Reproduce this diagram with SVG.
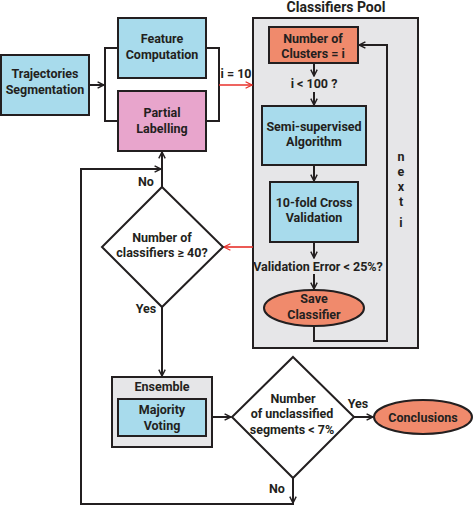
<svg xmlns="http://www.w3.org/2000/svg" width="474" height="506" viewBox="0 0 474 506">
<defs>
<marker id="ah" viewBox="0 0 10 10" refX="9" refY="5" markerWidth="8" markerHeight="8" markerUnits="userSpaceOnUse" orient="auto">
<path d="M1,1 L9,5 L1,9" fill="none" stroke="#231f20" stroke-width="1.8"/>
</marker>
<marker id="ahr" viewBox="0 0 10 10" refX="9" refY="5" markerWidth="8" markerHeight="8" markerUnits="userSpaceOnUse" orient="auto">
<path d="M1,1 L9,5 L1,9" fill="none" stroke="#e8312b" stroke-width="1.6"/>
</marker>
</defs>
<style>
text{font-family:Roboto,"Liberation Sans",sans-serif;font-weight:bold;font-size:12.5px;fill:#231f20;text-anchor:middle}
.box{stroke:#231f20;stroke-width:2}
.blue{fill:#a8dbec}.pink{fill:#e8a5cc}.sal{fill:#f08a6c}.gray{fill:#e6e6e8}.white{fill:#fff}
.ln{fill:none;stroke:#231f20;stroke-width:2}
.red{fill:none;stroke:#e8312b;stroke-width:1.6}
</style>
<g id="pool">
<rect class="box gray" x="253" y="18" width="165" height="330"/>
<text x="336" y="12" style="font-size:14px">Classifiers Pool</text>
</g>
<g id="connectors">
<path class="ln" d="M89,85 H104" marker-end="url(#ah)"/>
<path class="ln" d="M118,48 H105 V121 H118"/>
<path class="ln" d="M206,48 H219 V121 H206"/>
<path class="red" d="M219,85 H252" marker-end="url(#ahr)"/>
<path class="red" d="M253,247 H224" marker-end="url(#ahr)"/>
<path class="ln" d="M314,63 V76" marker-end="url(#ah)"/>
<path class="ln" d="M314,92 V105" marker-end="url(#ah)"/>
<path class="ln" d="M314,165 V181" marker-end="url(#ah)"/>
<path class="ln" d="M314,242 V258" marker-end="url(#ah)"/>
<path class="ln" d="M314,274 V289" marker-end="url(#ah)"/>
<path class="ln" d="M314,326 V341 H387 V45 H359" marker-end="url(#ah)"/>
<path class="ln" d="M162,187 V152" marker-end="url(#ah)"/>
<path class="ln" d="M81,504 V169 H161" marker-end="url(#ah)"/>
<path class="ln" d="M162,307 V376" marker-end="url(#ah)"/>
<path class="ln" d="M212,417 H231" marker-end="url(#ah)"/>
<path class="ln" d="M354,417 H373" marker-end="url(#ah)"/>
<path class="ln" d="M293,478 V503" marker-end="url(#ah)"/>
<path class="ln" d="M80,504 H294"/>
</g>
<g id="labels">
<text x="236" y="78">i = 10</text>
<text x="314" y="88">i &lt; 100 ?</text>
<text x="318" y="271">Validation Error &lt; 25%?</text>
<text x="146" y="186">No</text>
<text x="146" y="313">Yes</text>
<text x="358" y="408">Yes</text>
<text x="277" y="493">No</text>
<text x="401" y="161">n</text>
<text x="401" y="176">e</text>
<text x="401" y="191">x</text>
<text x="401" y="206">t</text>
<text x="401" y="227">i</text>
</g>
<g id="traj">
<rect class="box blue" x="1" y="55" width="88" height="60"/>
<text x="45" y="78">Trajectories</text>
<text x="45" y="94">Segmentation</text>
</g>
<g id="feature">
<rect class="box blue" x="118" y="18" width="88" height="60"/>
<text x="162" y="43">Feature</text>
<text x="162" y="59">Computation</text>
</g>
<g id="partial">
<rect class="box pink" x="118" y="91" width="88" height="60"/>
<text x="162" y="117">Partial</text>
<text x="162" y="133">Labelling</text>
</g>
<g id="clusters">
<rect class="box sal" x="269" y="27" width="89" height="36"/>
<text x="313" y="43">Number of</text>
<text x="313" y="58">Clusters = i</text>
</g>
<g id="semi">
<rect class="box blue" x="262" y="106" width="104" height="59"/>
<text x="314" y="131">Semi-supervised</text>
<text x="314" y="146">Algorithm</text>
</g>
<g id="cross">
<rect class="box blue" x="270" y="182" width="88" height="60"/>
<text x="314" y="207">10-fold Cross</text>
<text x="314" y="222">Validation</text>
</g>
<g id="save">
<ellipse class="box sal" cx="314" cy="308" rx="50" ry="18"/>
<text x="314" y="303">Save</text>
<text x="314" y="319">Classifier</text>
</g>
<g id="decision1">
<polygon class="box white" points="162,187 223,247 162,307 102,247"/>
<text x="162" y="242">Number of</text>
<text x="162" y="257">classifiers ≥ 40?</text>
</g>
<g id="ensemble">
<rect class="box gray" x="112" y="377" width="100" height="70"/>
<text x="162" y="391">Ensemble</text>
<rect class="box blue" x="118" y="399" width="88" height="37"/>
<text x="162" y="414">Majority</text>
<text x="162" y="430">Voting</text>
</g>
<g id="decision2">
<polygon class="box white" points="293,357 354,417 293,478 232,417"/>
<text x="293" y="403">Number</text>
<text x="292" y="418">of unclassified</text>
<text x="292" y="434">segments &lt; 7%</text>
</g>
<g id="conclusions">
<ellipse class="box sal" cx="423" cy="417" rx="49" ry="17"/>
<text x="423" y="422">Conclusions</text>
</g>
</svg>
